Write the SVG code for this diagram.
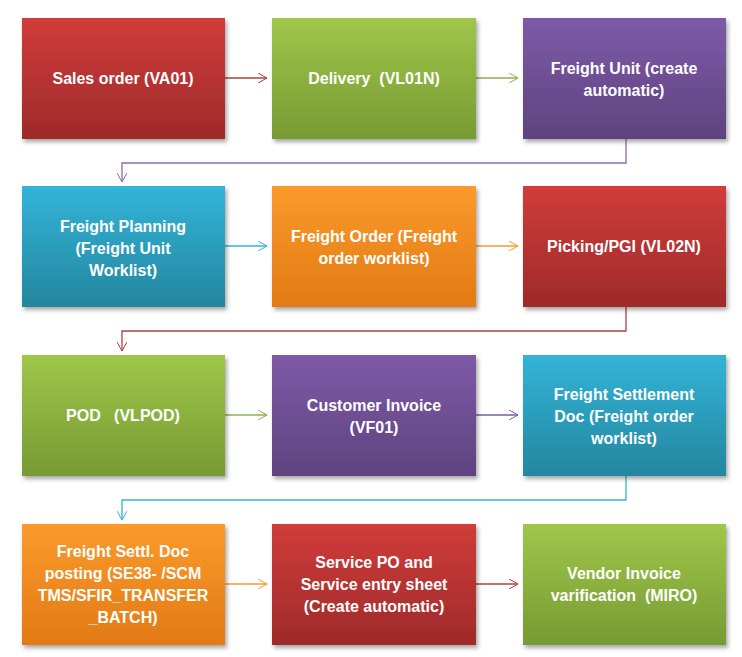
<svg xmlns="http://www.w3.org/2000/svg" width="742" height="657" viewBox="0 0 742 657">
<defs>
<linearGradient id="gr" x1="0" y1="0" x2="0" y2="1"><stop offset="0" stop-color="#d13c3a"/><stop offset="1" stop-color="#9e2a2a"/></linearGradient>
<linearGradient id="gg" x1="0" y1="0" x2="0" y2="1"><stop offset="0" stop-color="#9fc74a"/><stop offset="1" stop-color="#779a33"/></linearGradient>
<linearGradient id="gp" x1="0" y1="0" x2="0" y2="1"><stop offset="0" stop-color="#7e5aa8"/><stop offset="1" stop-color="#5e437f"/></linearGradient>
<linearGradient id="gb" x1="0" y1="0" x2="0" y2="1"><stop offset="0" stop-color="#33b4d8"/><stop offset="1" stop-color="#24869f"/></linearGradient>
<linearGradient id="go" x1="0" y1="0" x2="0" y2="1"><stop offset="0" stop-color="#fb9a2c"/><stop offset="1" stop-color="#e27a14"/></linearGradient>
<filter id="sh" x="-5%" y="-5%" width="115%" height="115%"><feDropShadow dx="2" dy="3" stdDeviation="2" flood-opacity="0.35"/></filter>
<marker id="ar" viewBox="0 0 10 10" refX="9" refY="5" markerWidth="10" markerHeight="10" orient="auto" markerUnits="userSpaceOnUse"><path d="M0,0 L9,5 L0,10" fill="none" stroke="context-stroke" stroke-width="1"/></marker>
</defs>
<style>
.b{filter:url(#sh)}
text{font-family:"Liberation Sans",Arial,sans-serif;font-weight:bold;font-size:16px;fill:#fff;text-anchor:middle}
.c path{fill:none;stroke-width:1.3;marker-end:url(#ar)}
</style>
<g class="c">
<path d="M225,78 H267" stroke="#b04040"/>
<path d="M476,78 H518" stroke="#8db24a"/>
<path d="M626,139 V163 H122 V182" stroke="#8a6cb0"/>
<path d="M225,246 H267" stroke="#33b4d8"/>
<path d="M476,246 H518" stroke="#fb9a2c"/>
<path d="M626,307 V331 H122 V351" stroke="#b04040"/>
<path d="M225,415 H267" stroke="#8db24a"/>
<path d="M476,415 H518" stroke="#7e5aa8"/>
<path d="M626,476 V500 H122 V520" stroke="#33b4d8"/>
<path d="M225,584 H267" stroke="#fb9a2c"/>
<path d="M476,584 H518" stroke="#b04040"/>
</g>
<g id="n1"><rect class="b" x="22" y="18" width="203" height="121" fill="url(#gr)"/><text x="123" y="84">Sales order (VA01)</text></g>
<g id="n2"><rect class="b" x="272" y="18" width="204" height="121" fill="url(#gg)"/><text x="374" y="84" xml:space="preserve">Delivery  (VL01N)</text></g>
<g id="n3"><rect class="b" x="523" y="18" width="203" height="121" fill="url(#gp)"/><text x="624" y="74">Freight Unit (create</text><text x="624" y="96">automatic)</text></g>
<g id="n4"><rect class="b" x="22" y="186" width="203" height="121" fill="url(#gb)"/><text x="123" y="232">Freight Planning</text><text x="123" y="254">(Freight Unit</text><text x="123" y="276">Worklist)</text></g>
<g id="n5"><rect class="b" x="272" y="186" width="204" height="121" fill="url(#go)"/><text x="374" y="242">Freight Order (Freight</text><text x="374" y="264">order worklist)</text></g>
<g id="n6"><rect class="b" x="523" y="186" width="203" height="121" fill="url(#gr)"/><text x="624" y="252">Picking/PGI (VL02N)</text></g>
<g id="n7"><rect class="b" x="22" y="355" width="203" height="121" fill="url(#gg)"/><text x="123" y="421" xml:space="preserve">POD   (VLPOD)</text></g>
<g id="n8"><rect class="b" x="272" y="355" width="204" height="121" fill="url(#gp)"/><text x="374" y="411">Customer Invoice</text><text x="374" y="433">(VF01)</text></g>
<g id="n9"><rect class="b" x="523" y="355" width="203" height="121" fill="url(#gb)"/><text x="624" y="400">Freight Settlement</text><text x="624" y="422">Doc (Freight order</text><text x="624" y="444">worklist)</text></g>
<g id="n10"><rect class="b" x="22" y="524" width="203" height="121" fill="url(#go)"/><text x="123" y="557">Freight Settl. Doc</text><text x="123" y="579">posting (SE38- /SCM</text><text x="123" y="601">TMS/SFIR_TRANSFER</text><text x="123" y="623">_BATCH)</text></g>
<g id="n11"><rect class="b" x="272" y="524" width="204" height="121" fill="url(#gr)"/><text x="374" y="568">Service PO and</text><text x="374" y="590">Service entry sheet</text><text x="374" y="612">(Create automatic)</text></g>
<g id="n12"><rect class="b" x="523" y="524" width="203" height="121" fill="url(#gg)"/><text x="624" y="579">Vendor Invoice</text><text x="624" y="601" xml:space="preserve">varification  (MIRO)</text></g>
</svg>
